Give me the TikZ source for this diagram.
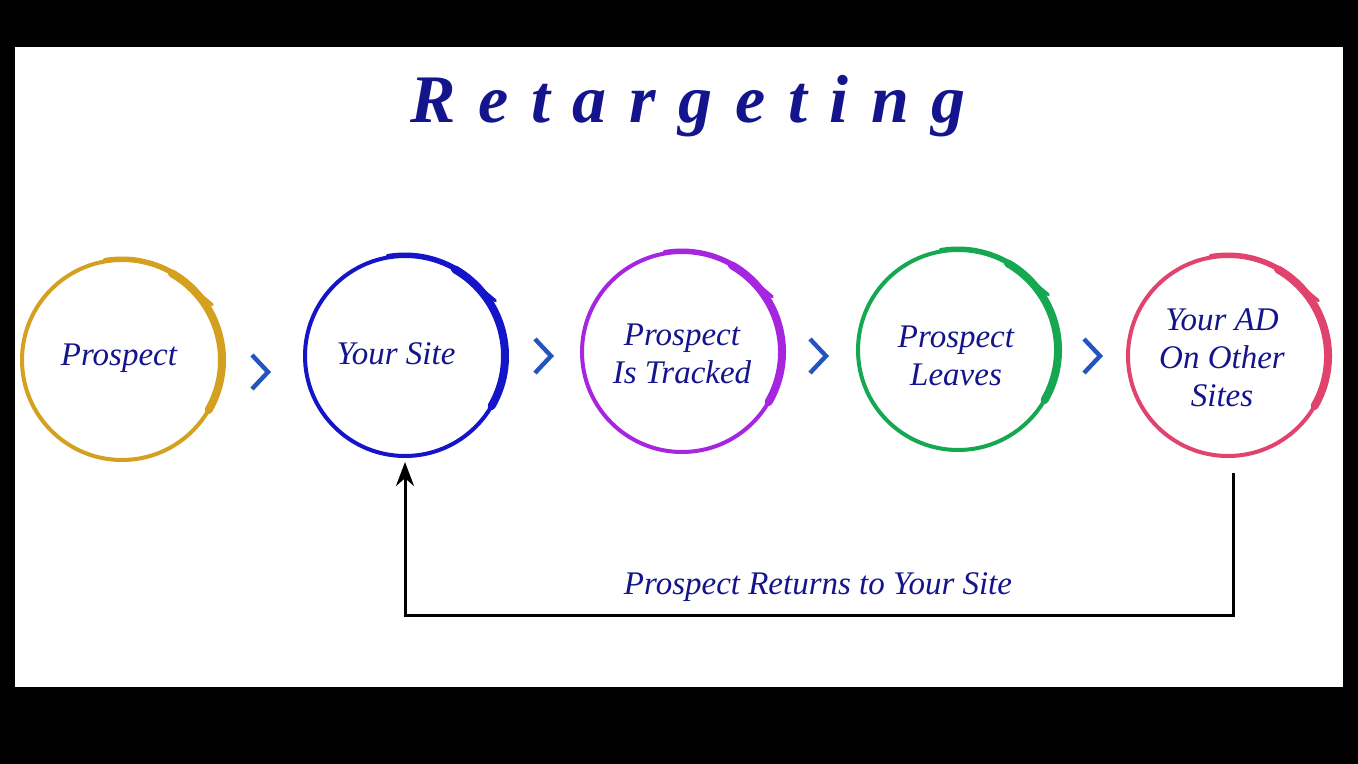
\documentclass[tikz,border=0pt]{standalone}
\usepackage{fontspec}
\setmainfont{Liberation Serif}
\usetikzlibrary{arrows.meta,calc}
\definecolor{txt}{HTML}{14148C}
\definecolor{cA}{HTML}{D4A020}
\definecolor{cB}{HTML}{1414C8}
\definecolor{cC}{HTML}{A626E0}
\definecolor{cD}{HTML}{16A850}
\definecolor{cE}{HTML}{E0446E}
\definecolor{chev}{HTML}{2454C0}
\tikzset{
 lbl/.style={font=\itshape\fontsize{16.5}{19}\selectfont, text=txt, align=center},
 chevron/.style={draw=chev, line width=2.2pt},
}
\newcommand{\brushring}[3]{% center, color, name
 \node[circle, minimum size=100pt, inner sep=0pt] (#3) at (#1) {};
 \draw[#2, line width=2pt] (#3.center) circle[radius=50pt];
 \draw[#2, line width=4pt, line cap=round] ($(#3.center)+(60:50pt)$) arc[start angle=60,end angle=-30,radius=50pt];
 \draw[#2, line width=1.5pt, line cap=round] ($(#3.center)+(100:51pt)$) arc[start angle=100,end angle=40,radius=51pt] -- ++(-40:8pt);
}
\begin{document}
\begin{tikzpicture}[x=0.5pt,y=-0.5pt]
\fill[black] (0,0) rectangle (1358,764);
\fill[white] (15,47) rectangle (1343,687);
\node[font=\itshape\bfseries\fontsize{34}{36}\selectfont, text=txt] (title) at (688,106) {R\,\,e\,\,t\,\,a\,\,r\,\,g\,\,e\,\,t\,\,i\,\,n\,\,g};
\brushring{122,360}{cA}{c1}
\brushring{405,356}{cB}{c2}
\brushring{682,352}{cC}{c3}
\brushring{958,350}{cD}{c4}
\brushring{1228,356}{cE}{c5}
\node[lbl] at (119,358) {Prospect};
\node[lbl] at (396,354) {Your Site};
\node[lbl] at (682,354) {Prospect\\Is Tracked};
\node[lbl] at (956,356) {Prospect\\Leaves};
\node[lbl] at (1222,358) {Your AD\\On Other\\Sites};
\foreach \x/\y in {260/372,543/356,818/356,1092/356}
 \draw[chevron] (\x-8,\y-17) -- (\x+8,\y) -- (\x-8,\y+17);
\coordinate (s) at (1233,473);
\coordinate (e) at (405,462);
\draw[line width=1.5pt, -{Stealth[length=12pt,width=9pt]}] (s) -- (1233,615) -- (405,615) -- (e);
\node[lbl] at (818,587) {Prospect Returns to Your Site};
\end{tikzpicture}
\end{document}
